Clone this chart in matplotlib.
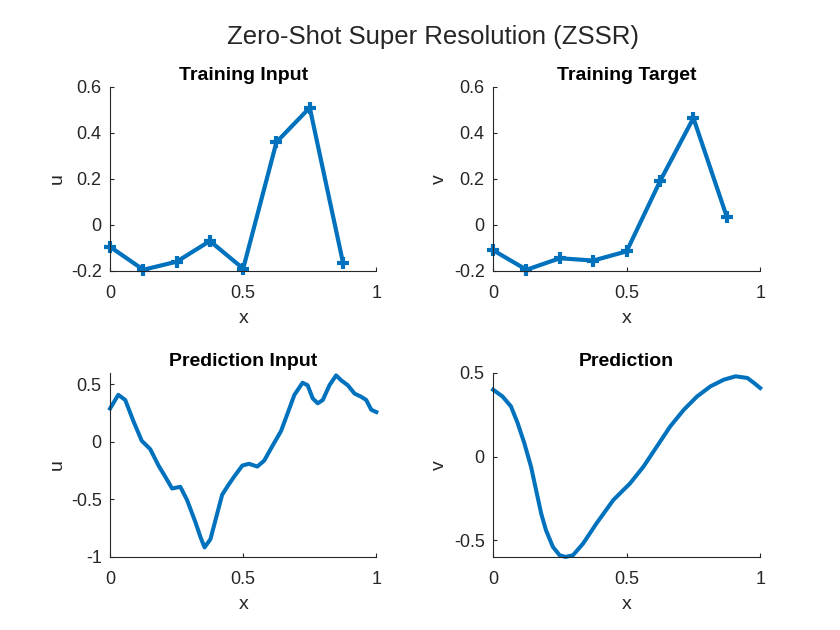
import matplotlib.pyplot as plt

plt.rcParams['font.family'] = ['Liberation Sans', 'DejaVu Sans']

blue = '#0072BD'
grey = '#262626'

# training data (8 coarse samples)
x_train = [0, 0.125, 0.25, 0.375, 0.5, 0.625, 0.75, 0.875]
u_train = [-0.095, -0.195, -0.16, -0.07, -0.19, 0.36, 0.51, -0.165]
v_train = [-0.11, -0.195, -0.145, -0.155, -0.115, 0.19, 0.465, 0.035]

# prediction input
x_pin = [0, 0.031, 0.057, 0.088, 0.119, 0.151, 0.182, 0.208, 0.233, 0.264,
         0.289, 0.321, 0.34, 0.355, 0.377, 0.403, 0.421, 0.44, 0.465, 0.497,
         0.522, 0.553, 0.579, 0.61, 0.642, 0.667, 0.692, 0.723, 0.742, 0.761,
         0.78, 0.799, 0.824, 0.849, 0.868, 0.893, 0.918, 0.943, 0.962, 0.981, 1.0]
u_pin = [0.29, 0.41, 0.365, 0.18, 0.01, -0.063, -0.205, -0.305, -0.405, -0.39,
         -0.504, -0.70, -0.83, -0.917, -0.846, -0.618, -0.46, -0.39, -0.305, -0.205,
         -0.19, -0.214, -0.162, -0.034, 0.094, 0.25, 0.408, 0.515, 0.493, 0.379,
         0.336, 0.365, 0.493, 0.579, 0.536, 0.493, 0.421, 0.393, 0.365, 0.28, 0.26]

# prediction output
x_pred = [0, 0.035, 0.067, 0.092, 0.117, 0.142, 0.161, 0.18, 0.198, 0.224,
          0.249, 0.271, 0.299, 0.337, 0.387, 0.45, 0.513, 0.563, 0.613, 0.663,
          0.714, 0.764, 0.814, 0.864, 0.908, 0.952, 0.977, 1.0]
v_pred = [0.40, 0.36, 0.30, 0.20, 0.08, -0.06, -0.20, -0.34, -0.44, -0.54,
          -0.59, -0.60, -0.59, -0.52, -0.40, -0.26, -0.16, -0.06, 0.06, 0.18,
          0.28, 0.36, 0.42, 0.46, 0.48, 0.47, 0.44, 0.41]

fig = plt.figure(figsize=(8.4, 6.3), dpi=100)
fig.text(0.515, 0.942, "Zero-Shot Super Resolution (ZSSR)", fontsize=18.5,
         ha='center', va='center', color=grey)

pos = [[0.131, 0.570, 0.317, 0.292], [0.587, 0.570, 0.318, 0.292],
       [0.131, 0.116, 0.317, 0.292], [0.587, 0.116, 0.318, 0.292]]
axs = [fig.add_axes(p) for p in pos]

axs[0].plot(x_train, u_train, color=blue, lw=3, marker='+', ms=8.5, mew=3, clip_on=False)
axs[1].plot(x_train, v_train, color=blue, lw=3, marker='+', ms=8.5, mew=3, clip_on=False)
axs[2].plot(x_pin, u_pin, color=blue, lw=2.9, solid_joinstyle='round', clip_on=False)
axs[3].plot(x_pred, v_pred, color=blue, lw=2.9, solid_joinstyle='round', clip_on=False)

titles = ["Training Input", "Training Target", "Prediction Input", "Prediction"]
ylabels = ["u", "v", "u", "v"]
for ax, t, yl in zip(axs, titles, ylabels):
    ax.set_title(t, fontsize=14, fontweight='bold', color='black', pad=5)
    ax.set_xlabel("x", fontsize=14, color=grey, labelpad=6)
    ax.set_ylabel(yl, fontsize=14, color=grey, labelpad=4)
    ax.set_xlim(0, 1)
    ax.set_xticks([0, 0.5, 1])
    ax.set_xticklabels(["0", "0.5", "1"])
    ax.spines['top'].set_visible(False)
    ax.spines['right'].set_visible(False)
    for s in ['left', 'bottom']:
        ax.spines[s].set_color(grey)
        ax.spines[s].set_linewidth(0.8)
    ax.tick_params(direction='in', length=3, labelsize=13, colors=grey)
    ax.tick_params(axis='x', pad=10)
    ax.tick_params(axis='y', pad=6)

for ax in axs[:2]:
    ax.set_ylim(-0.2, 0.6)
    ax.set_yticks([-0.2, 0, 0.2, 0.4, 0.6])
    ax.set_yticklabels(["-0.2", "0", "0.2", "0.4", "0.6"])

axs[2].set_ylim(-1, 0.6)
axs[2].set_yticks([-1, -0.5, 0, 0.5])
axs[2].set_yticklabels(["-1", "-0.5", "0", "0.5"])

axs[3].set_ylim(-0.6, 0.5)
axs[3].set_yticks([-0.5, 0, 0.5])
axs[3].set_yticklabels(["-0.5", "0", "0.5"])

fig.savefig("out.png", dpi=100)
